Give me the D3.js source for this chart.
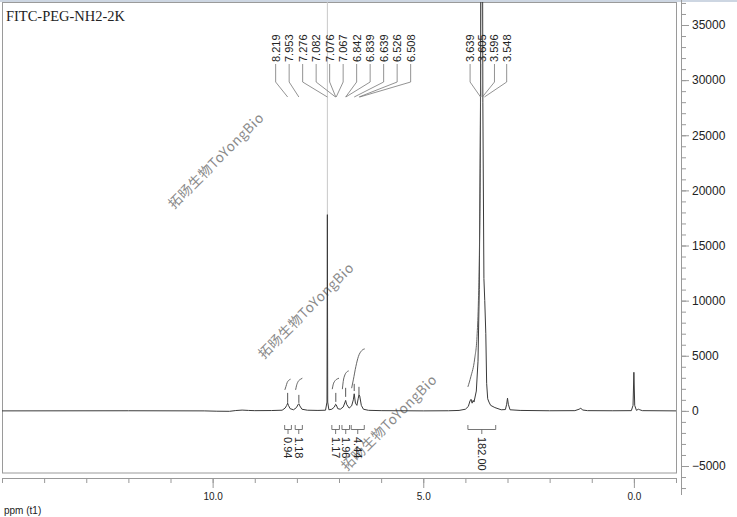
<!DOCTYPE html>
<html><head><meta charset="utf-8">
<script src="https://cdn.jsdelivr.net/npm/d3@7"></script>
<style>
body{margin:0;background:#fff}
svg{display:block}
text{font-family:"Liberation Sans",Arial,sans-serif}
</style>
</head><body>
<svg id="c" width="737" height="517"></svg>
<script>
// ---------------- data ----------------
const title = "FITC-PEG-NH2-2K";
const xAxisLabel = "ppm (t1)";
const watermark = "拓旸生物ToYongBio";
const xMajorTicks = [10, 5, 0];
const xMinorTicks = [15, 14, 13, 12, 11, 10, 9, 8, 7, 6, 5, 4, 3, 2, 1, 0, -1];
const yMajorTicks = [-5000, 0, 5000, 10000, 15000, 20000, 25000, 30000, 35000];
const yMinorTicks = [-7000,-6000,-5000,-4000,-3000,-2000,-1000,0,1000,2000,3000,4000,5000,6000,7000,8000,9000,10000,11000,12000,13000,14000,15000,16000,17000,18000,19000,20000,21000,22000,23000,24000,25000,26000,27000,28000,29000,30000,31000,32000,33000,34000,35000,36000,37000];

// spectrum trace [ppm, intensity]
const spectrum = [
  [15.0,0],[12.0,10],[10.2,0],[9.9,-30],[9.6,-40],[9.45,30],[9.3,70],[9.15,40],[9.0,20],[8.6,30],[8.35,60],
  [8.28,250],[8.24,500],[8.219,700],[8.20,500],[8.16,200],[8.08,100],[8.01,300],[7.975,550],[7.953,650],[7.93,450],[7.88,150],[7.75,60],[7.5,40],[7.32,60],
  [7.285,800],[7.276,17800],[7.268,800],[7.24,100],[7.17,150],[7.11,350],[7.08,600],[7.065,550],[7.03,200],[6.97,150],[6.90,350],[6.855,800],[6.842,950],[6.82,600],[6.76,250],
  [6.70,450],[6.66,1000],[6.639,1550],[6.61,700],[6.575,500],[6.545,1100],[6.526,1450],[6.508,1350],[6.47,500],[6.42,150],[6.3,50],[6.0,20],[5.0,0],[4.4,10],[4.15,40],[4.0,150],
  [3.93,400],[3.89,900],[3.865,1050],[3.84,700],[3.815,950],[3.795,800],[3.74,1800],[3.70,4500],[3.67,11000],[3.64,28000],[3.61,80000],[3.585,28000],[3.56,12000],[3.54,10000],[3.515,7000],[3.495,2500],[3.47,1100],[3.44,800],[3.40,500],[3.30,300],[3.15,100],
  [3.05,120],[3.02,600],[3.00,1150],[2.98,600],[2.94,100],[2.7,40],[2.0,10],[1.4,20],[1.3,150],[1.26,250],[1.22,80],[1.1,20],[0.5,10],
  [0.06,20],[0.02,500],[0.0,3500],[-0.02,500],[-0.06,50],[-0.11,150],[-0.14,100],[-0.2,20],[-1.0,0]
];

// solvent reference line (ppm, top intensity)
const solventLine = [7.276, 17800];

// peak picking labels
const peakLabelsA = ["8.219","7.953","7.276","7.082","7.076","7.067","6.842","6.839","6.639","6.526","6.508"];
const peakLabelsB = ["3.639","3.605","3.596","3.548"];

// peak markers [ppm, low, high]
const peakMarkers = [[8.219,725,1630],[7.953,725,1450],[7.076,815,1630],[6.842,1270,2090],[6.639,1800,2450],[6.526,1450,2180]];

// integrations
const integralLabels = ["0.94","1.18","1.17","1.96","4.44","182.00"];
const integralRanges = [[8.29,8.13],[8.04,7.87],[7.17,6.99],[6.93,6.75],[6.71,6.40],[3.94,3.28]];
const integralCurves = [
  [[8.285,1905],[8.26,2204],[8.23,2567],[8.18,2812],[8.15,2875]],
  [[8.03,1905],[8.01,2268],[7.97,2658],[7.91,2875],[7.87,2966]],
  [[7.16,1968],[7.14,2358],[7.09,2748],[7.04,2902],[7.00,2966]],
  [[6.92,1968],[6.90,2658],[6.86,3265],[6.82,3510],[6.77,3628]],
  [[6.70,2059],[6.66,2812],[6.60,4018],[6.54,4925],[6.46,5469],[6.39,5623]],
  [[3.94,2177],[3.87,3100],[3.78,4700],[3.72,7000],[3.69,10000],[3.665,15000],[3.645,24000],[3.635,40000]]
];

// ---------------- drawing ----------------
const svg = d3.select("#c");
const x = d3.scaleLinear().domain([15, -1]).range([2, 676]);
const y = d3.scaleLinear().domain([-5000, 35000]).range([466, 25]);

svg.append("rect").attr("x",0).attr("y",0).attr("width",737).attr("height",517).attr("fill","#fff");
svg.append("rect").attr("x",0).attr("y",0).attr("width",737).attr("height",2).attr("fill","#cdd6e2");

svg.append("defs").append("clipPath").attr("id","clip")
  .append("rect").attr("x",2).attr("y",2).attr("width",675).attr("height",471);

// frame
svg.append("rect").attr("x",2.5).attr("y",2.5).attr("width",674).attr("height",470.5)
  .attr("fill","none").attr("stroke","#9a9a9a").attr("stroke-width",1);

// watermarks
const wm = [[215,160],[305,310],[388,422]];
wm.forEach(p=>{
  svg.append("text").attr("transform",`translate(${p[0]},${p[1]}) rotate(-45)`)
    .attr("text-anchor","middle").attr("dominant-baseline","central")
    .attr("font-size",13.5).attr("fill","#8a8a8a")
    .attr("textLength",128).attr("lengthAdjust","spacing")
    .style("font-family","'Noto Sans CJK SC','Liberation Sans',sans-serif")
    .text(watermark);
});

const plot = svg.append("g").attr("clip-path","url(#clip)");

// solvent marker line
plot.append("line").attr("x1",x(solventLine[0])).attr("x2",x(solventLine[0]))
  .attr("y1",2).attr("y2",y(solventLine[1])).attr("stroke","#c8c8c8").attr("stroke-width",1);

// spectrum
plot.append("path").datum(spectrum)
  .attr("d", d3.line().x(d=>x(d[0])).y(d=>y(d[1])))
  .attr("fill","none").attr("stroke","#3a3a3a").attr("stroke-width",1);

// integral curves
integralCurves.forEach(c=>{
  plot.append("path").datum(c)
    .attr("d", d3.line().x(d=>x(d[0])).y(d=>y(d[1])).curve(d3.curveMonotoneX))
    .attr("fill","none").attr("stroke","#555").attr("stroke-width",0.9);
});

// peak markers
peakMarkers.forEach(m=>{
  plot.append("line").attr("x1",x(m[0])).attr("x2",x(m[0]))
    .attr("y1",y(m[1])).attr("y2",y(m[2])).attr("stroke","#444").attr("stroke-width",0.9);
});

// integration brackets + labels
integralRanges.forEach((r,i)=>{
  const a = x(r[0]), b = x(r[1]), c = (a+b)/2;
  svg.append("path").attr("d",`M${a},425V429.5H${b}V425M${c},429.5V434`)
    .attr("fill","none").attr("stroke","#666").attr("stroke-width",0.9);
  svg.append("text").attr("transform",`translate(${c},437) rotate(90)`)
    .attr("dominant-baseline","central").attr("font-size",11).attr("fill","#222")
    .text(integralLabels[i]);
});

// peak labels
function peakGroup(labels, off, gap){
  const x0 = x(+labels[0]) - off;
  labels.forEach((t,i)=>{
    const lx = x0 + i*gap;
    svg.append("text").attr("transform",`translate(${lx},62) rotate(-90)`)
      .attr("dominant-baseline","central").attr("font-size",11).attr("fill","#222")
      .text(t);
    svg.append("path").attr("d",`M${lx},64V82L${x(+t)},97`)
      .attr("fill","none").attr("stroke","#777").attr("stroke-width",0.8);
  });
}
peakGroup(peakLabelsA, 12, 13.5);
peakGroup(peakLabelsB, 10.5, 12.2);

// title
svg.append("text").attr("x",6).attr("y",21).attr("font-size",14).attr("fill","#222")
  .attr("textLength",119).attr("lengthAdjust","spacingAndGlyphs")
  .style("font-family","'Liberation Serif','DejaVu Serif',serif").text(title);

// right y axis
const yAx = svg.append("g").attr("transform","translate(681,0)");
yAx.append("line").attr("x1",0.5).attr("x2",0.5).attr("y1",0).attr("y2",495).attr("stroke","#999");
yAx.append("g").call(d3.axisRight(y).tickValues(yMinorTicks).tickSize(5).tickFormat("").tickSizeOuter(0))
  .call(g=>{g.select(".domain").remove(); g.selectAll("line").attr("stroke","#999");});
yAx.append("g").call(d3.axisRight(y).tickValues(yMajorTicks).tickSize(8).tickPadding(3).tickFormat(d3.format("d")).tickSizeOuter(0))
  .call(g=>{g.select(".domain").remove(); g.selectAll("line").attr("stroke","#999");
    g.selectAll("text").attr("font-size",12).attr("fill","#222").style("font-family","'Liberation Sans',Arial,sans-serif");});

// bottom x axis
const xAx = svg.append("g").attr("transform","translate(0,478)");
xAx.append("g").call(d3.axisBottom(x).tickValues(xMinorTicks).tickSize(5).tickFormat("").tickSizeOuter(0))
  .call(g=>{g.select(".domain").attr("stroke","#999"); g.selectAll("line").attr("stroke","#999");});
xAx.append("g").call(d3.axisBottom(x).tickValues(xMajorTicks).tickSize(10).tickPadding(5).tickFormat(d3.format(".1f")).tickSizeOuter(0))
  .call(g=>{g.select(".domain").remove(); g.selectAll("line").attr("stroke","#999");
    g.selectAll("text").attr("font-size",10).attr("fill","#222").style("font-family","'Liberation Sans',Arial,sans-serif");});

svg.append("text").attr("x",4).attr("y",514).attr("font-size",10).attr("fill","#222").text(xAxisLabel);
</script>
</body></html>
